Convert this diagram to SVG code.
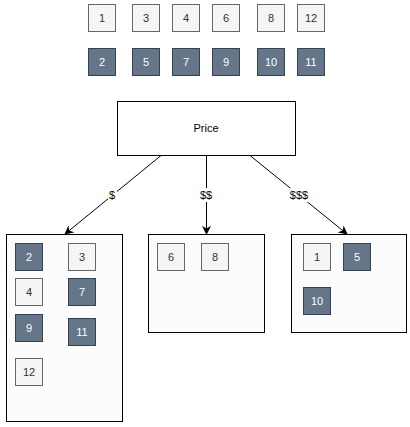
<svg xmlns="http://www.w3.org/2000/svg" width="410" height="427" viewBox="0 0 410 427">
<defs>
<style>
text{font-family:"Liberation Sans",Arial,sans-serif;font-size:11px;text-anchor:middle;dominant-baseline:central}
.l rect{fill:#f5f5f5;stroke:#666666;stroke-width:1}
.l text{fill:#333333}
.d rect{fill:#647687;stroke:#314354;stroke-width:1}
.d text{fill:#ffffff}
.box{fill:#ffffff;stroke:#000000;stroke-width:1}
.c{fill:#fcfcfc;stroke:#000000;stroke-width:1}
.e{stroke:#000000;stroke-width:1;fill:none}
.lbl{fill:#ffffff}
</style>
<marker id="ah" viewBox="0 0 10 10" refX="9" refY="5" markerWidth="9" markerHeight="9" markerUnits="userSpaceOnUse" orient="auto"><path d="M0,0 L10,5 L0,10 L3,5 Z" fill="#000"/></marker>
</defs>
<rect width="410" height="427" fill="#ffffff"/>
<g id="top-1" class="l"><rect x="88.5" y="4.5" width="27" height="27"/><text x="102" y="18">1</text></g>
<g id="top-3" class="l"><rect x="132.5" y="4.5" width="27" height="27"/><text x="146" y="18">3</text></g>
<g id="top-4" class="l"><rect x="172.5" y="4.5" width="27" height="27"/><text x="186" y="18">4</text></g>
<g id="top-6" class="l"><rect x="212.5" y="4.5" width="27" height="27"/><text x="226" y="18">6</text></g>
<g id="top-8" class="l"><rect x="257.5" y="4.5" width="27" height="27"/><text x="271" y="18">8</text></g>
<g id="top-12" class="l"><rect x="297.5" y="4.5" width="27" height="27"/><text x="311" y="18">12</text></g>
<g id="top-2" class="d"><rect x="88.5" y="48.5" width="27" height="27"/><text x="102" y="62">2</text></g>
<g id="top-5" class="d"><rect x="132.5" y="48.5" width="27" height="27"/><text x="146" y="62">5</text></g>
<g id="top-7" class="d"><rect x="172.5" y="48.5" width="27" height="27"/><text x="186" y="62">7</text></g>
<g id="top-9" class="d"><rect x="212.5" y="48.5" width="27" height="27"/><text x="226" y="62">9</text></g>
<g id="top-10" class="d"><rect x="257.5" y="48.5" width="27" height="27"/><text x="271" y="62">10</text></g>
<g id="top-11" class="d"><rect x="297.5" y="48.5" width="27" height="27"/><text x="311" y="62">11</text></g>
<g id="price"><rect class="box" x="117.5" y="101.5" width="178" height="54"/><text x="206" y="128">Price</text></g>
<g id="connectors">
<path class="e" d="M161,155.5 L65,234" marker-end="url(#ah)"/>
<path class="e" d="M206.5,155.5 L206.5,234" marker-end="url(#ah)"/>
<path class="e" d="M250,155.5 L347,234" marker-end="url(#ah)"/>
<rect class="lbl" x="108" y="188" width="9" height="14"/><text x="112" y="195">$</text>
<rect class="lbl" x="199" y="188" width="15" height="14"/><text x="206" y="195">$$</text>
<rect class="lbl" x="290" y="188" width="19" height="14" fill="#f7f7f7"/><text x="299" y="195">$$$</text>
</g>
<g id="group-low"><rect class="c" x="6.5" y="234.5" width="116" height="187"/></g>
<g id="group-mid"><rect class="c" x="148.5" y="234.5" width="116" height="98"/></g>
<g id="group-high"><rect class="c" x="291.5" y="234.5" width="115" height="98"/></g>
<g id="low-2" class="d"><rect x="15.5" y="243.5" width="27" height="27"/><text x="29" y="257">2</text></g>
<g id="low-3" class="l"><rect x="68.5" y="243.5" width="27" height="27"/><text x="82" y="257">3</text></g>
<g id="low-4" class="l"><rect x="15.5" y="278.5" width="27" height="27"/><text x="29" y="292">4</text></g>
<g id="low-7" class="d"><rect x="68.5" y="278.5" width="27" height="27"/><text x="82" y="292">7</text></g>
<g id="low-9" class="d"><rect x="15.5" y="314.5" width="27" height="27"/><text x="29" y="328">9</text></g>
<g id="low-11" class="d"><rect x="68.5" y="318.5" width="27" height="27"/><text x="82" y="332">11</text></g>
<g id="low-12" class="l"><rect x="15.5" y="358.5" width="27" height="27"/><text x="29" y="372">12</text></g>
<g id="mid-6" class="l"><rect x="157.5" y="243.5" width="27" height="27"/><text x="171" y="257">6</text></g>
<g id="mid-8" class="l"><rect x="201.5" y="243.5" width="27" height="27"/><text x="215" y="257">8</text></g>
<g id="high-1" class="l"><rect x="303.5" y="243.5" width="27" height="27"/><text x="317" y="257">1</text></g>
<g id="high-5" class="d"><rect x="343.5" y="243.5" width="27" height="27"/><text x="357" y="257">5</text></g>
<g id="high-10" class="d"><rect x="303.5" y="287.5" width="27" height="27"/><text x="317" y="301">10</text></g>
</svg>
